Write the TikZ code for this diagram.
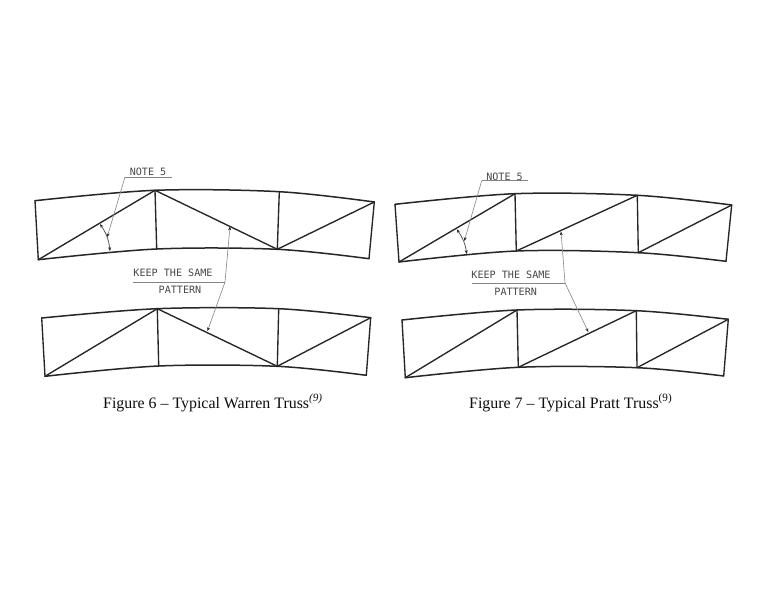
\documentclass[tikz,border=0pt]{standalone}
\usepackage{fontspec}
\setmainfont{Liberation Serif}
\newfontfamily\draftfont{DejaVu Sans Mono}
\usetikzlibrary{arrows.meta}
\tikzset{
  member/.style={line width=1.35pt,color=black!85,line join=round,line cap=round},
  chord/.style={member,line width=1.5pt},
  leader/.style={line width=0.6pt,color=black!48},
  tipped/.style={leader,-{Stealth[length=3.8pt,width=3pt,color=black!85]}},
  dimarc/.style={line width=0.8pt,color=black!65,{Stealth[length=3.8pt,width=3pt,color=black!85]}-{Stealth[length=3.8pt,width=3pt,color=black!85]}},
  draftlabel/.style={font=\draftfont\fontsize{10.1}{11}\selectfont,color=black!72,inner sep=0pt},
  caption/.style={font=\fontsize{15.9}{18}\selectfont,color=black!95,inner sep=0pt,anchor=base west}
}
\newcommand{\trussframe}[1]{%
  \draw[chord] plot[smooth,tension=0.55] coordinates {(#1tl) (#1t1) (#1t2) (#1tr)};
  \draw[chord] plot[smooth,tension=0.55] coordinates {(#1bl) (#1b1) (#1b2) (#1br)};
  \draw[member] (#1tl) -- (#1bl);
  \draw[member] (#1tr) -- (#1br);
  \draw[member] (#1t1) -- (#1b1);
  \draw[member] (#1t2) -- (#1b2);
  \draw[member] (#1bl) -- (#1t1);
  \draw[member] (#1b2) -- (#1tr);
}
\begin{document}
\begin{tikzpicture}[x=1pt,y=-1pt]
\useasboundingbox (0,0) rectangle (768,594);
\fill[white] (0,0) rectangle (768,594);
% truss A
\coordinate (atl) at (35,200.7); \coordinate (at1) at (155,190.3); \coordinate (at2) at (279.3,191.7); \coordinate (atr) at (374.3,202);
\coordinate (abl) at (38.3,259.7); \coordinate (ab1) at (156.7,249); \coordinate (ab2) at (277.3,249.3); \coordinate (abr) at (369,258.7);
\trussframe{a}
\draw[member] (at1) -- (ab2);
% truss B
\coordinate (btl) at (41.7,318); \coordinate (bt1) at (157.3,308.7); \coordinate (bt2) at (278.7,308.7); \coordinate (btr) at (370.7,317.7);
\coordinate (bbl) at (45,376.3); \coordinate (bb1) at (158.7,366); \coordinate (bb2) at (277.3,366.3); \coordinate (bbr) at (366.3,375.3);
\trussframe{b}
\draw[member] (bt1) -- (bb2);
% truss C
\coordinate (ctl) at (395,204.3); \coordinate (ct1) at (515,193.7); \coordinate (ct2) at (637.3,195.3); \coordinate (ctr) at (731.7,205);
\coordinate (cbl) at (399,262); \coordinate (cb1) at (516.3,251); \coordinate (cb2) at (638.3,252.7); \coordinate (cbr) at (726,261.3);
\trussframe{c}
\draw[member] (cb1) -- (ct2);
% truss D
\coordinate (dtl) at (402,320); \coordinate (dt1) at (517,310); \coordinate (dt2) at (636.3,310.7); \coordinate (dtr) at (728.3,319.3);
\coordinate (dbl) at (405.3,377.7); \coordinate (db1) at (518.3,367.3); \coordinate (db2) at (637,367.7); \coordinate (dbr) at (723.7,376);
\trussframe{d}
\draw[member] (db1) -- (dt2);
% left annotations
\node[draftlabel] (noteL) at (148,172) {NOTE 5};
\coordinate (noteLa) at (172.3,177); \coordinate (noteLb) at (125,177);
\coordinate (arcLa) at (100,224); \coordinate (arcLb) at (110,251); \coordinate (arcLm) at (107.2,237);
\draw[leader] (noteLa) -- (noteLb);
\draw[tipped] (noteLb) -- (arcLm);
\draw[dimarc] (arcLa) to[bend left=14] (arcLb);
\node[draftlabel] (keepL) at (173,272.5) {KEEP THE SAME};
\node[draftlabel] (patL) at (180,290) {PATTERN};
\coordinate (keepLa) at (133,282); \coordinate (keepLb) at (225,282);
\coordinate (tipLa) at (230,226.5); \coordinate (tipLb) at (207.5,331);
\draw[leader] (keepLa) -- (keepLb);
\draw[tipped] (keepLb) -- (tipLa);
\draw[tipped] (keepLb) -- (tipLb);
% right annotations
\node[draftlabel] (noteR) at (504.5,176.5) {NOTE 5};
\coordinate (noteRa) at (528.3,180.7); \coordinate (noteRb) at (481.7,180.7);
\coordinate (arcRa) at (456.7,229.3); \coordinate (arcRb) at (466.7,254); \coordinate (arcRm) at (464.3,241);
\draw[leader] (noteRa) -- (noteRb);
\draw[tipped] (noteRb) -- (arcRm);
\draw[dimarc] (arcRa) to[bend left=14] (arcRb);
\node[draftlabel] (keepR) at (511,274.5) {KEEP THE SAME};
\node[draftlabel] (patR) at (515.7,292) {PATTERN};
\coordinate (keepRa) at (472,283); \coordinate (keepRb) at (565,283);
\coordinate (tipRa) at (561,231.5); \coordinate (tipRb) at (588.3,332);
\draw[leader] (keepRa) -- (keepRb);
\draw[tipped] (keepRb) -- (tipRa);
\draw[tipped] (keepRb) -- (tipRb);
% captions
\node[caption] (capL) at (103,408) {Figure 6 – Typical Warren Truss\textsuperscript{\textit{(9)}}};
\node[caption] (capR) at (469,408) {Figure 7 – Typical Pratt Truss\textsuperscript{(9)}};
\end{tikzpicture}
\end{document}
